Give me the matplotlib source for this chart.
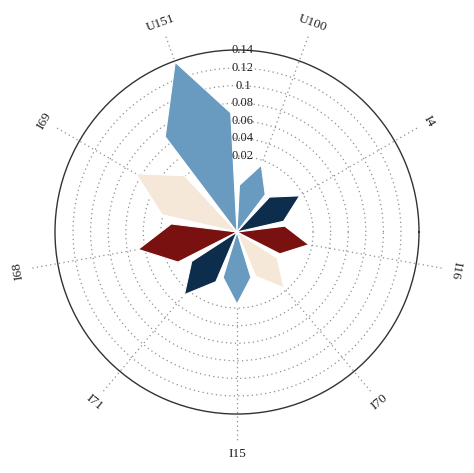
import numpy as np
import matplotlib
matplotlib.use("Agg")
import matplotlib.pyplot as plt
from matplotlib.transforms import offset_copy

plt.rcParams['font.family'] = ['Liberation Serif', 'DejaVu Serif']

# categories, clockwise starting at upper left
categories = ['U151', 'U100', 'I4', 'I16', 'I70', 'I15', 'I71', 'I68', 'I69']
values = [0.139, 0.0143, 0.0158, 0.0164, 0.0165, 0.0155, 0.0265, 0.0476, 0.0661]
colors = ['#689bbf', '#689bbf', '#0c2d4b', '#7a1111', '#f6e8d8',
          '#689bbf', '#0c2d4b', '#7a1111', '#f6e8d8']
ring_vals = [0.02, 0.04, 0.06, 0.08, 0.1, 0.12, 0.14]
ring_labels = ['0.02', '0.04', '0.06', '0.08', '0.1', '0.12', '0.14']

r_min = -0.0665
r_max = 0.1405

fig = plt.figure(figsize=(4.74, 4.73), dpi=100)
ax = fig.add_axes([0.116, 0.1247, 0.768, 0.7696], projection='polar')
ax.set_ylim(r_min, r_max)
ax.set_xticks([])
ax.set_yticks(ring_vals[:-1])
ax.set_yticklabels([])
ax.tick_params(axis='both', length=0, width=0)
ax.yaxis.set_minor_locator(plt.NullLocator())
ax.xaxis.set_minor_locator(plt.NullLocator())
ax.yaxis.grid(True, color='#8f8f8f', linestyle=(0, (1, 2.6)), linewidth=0.9)
ax.xaxis.grid(False)
for name in ['start', 'end', 'inner']:
    if name in ax.spines:
        ax.spines[name].set_visible(False)
ax.spines['polar'].set_color('#333333')
ax.spines['polar'].set_linewidth(1.0)

angles = np.deg2rad(110 - 40 * np.arange(len(categories)))
half = np.deg2rad(17)

# kite shaped markers from centre to value
for th, v, c in zip(angles, values, colors):
    L = v - r_min
    rs = r_min + 0.66 * L
    ax.fill([th, th + half, th, th - half], [r_min, rs, v, rs],
            facecolor=c, edgecolor='white', linewidth=0.8, zorder=3)

# dotted spokes running out to the labels
for th in angles:
    ax.plot([th, th], [0.02, 0.171], color='#8f8f8f', linestyle=(0, (1, 2.6)),
            linewidth=0.9, clip_on=False, zorder=1)

# category labels, turned along the circle
for th, name in zip(angles, categories):
    deg = np.rad2deg(th) % 360
    rot = deg - 90
    if 120 < rot % 360 < 240:
        rot += 180
    ax.text(th, 0.186, name, rotation=rot, rotation_mode='anchor',
            ha='center', va='center', fontsize=9.5, color='#222222', clip_on=False)

# radial tick labels along the vertical
trans = offset_copy(ax.transData, fig=fig, x=6, y=0, units='dots')
for r, lab in zip(ring_vals, ring_labels):
    ax.text(np.pi / 2, r, lab, transform=trans, ha='center', va='center',
            fontsize=9, color='#222222', zorder=4)

plt.savefig('out.png', dpi=100)
